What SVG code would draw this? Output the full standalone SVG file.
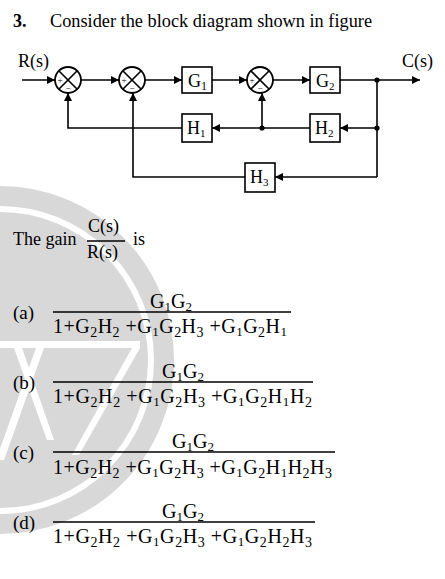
<svg xmlns="http://www.w3.org/2000/svg" width="445" height="579" viewBox="0 0 445 579">
<style>
  .t { font-family: "Liberation Serif", "Times New Roman", serif; fill: #000; }
  .ln { stroke: #000; stroke-width: 1.6; fill: none; }
  .box { stroke: #000; stroke-width: 1.6; fill: #fff; }
  .sum { stroke: #000; stroke-width: 1.8; fill: #fff; }
  .fr { stroke: #000; stroke-width: 1.3; }
  .wm { fill: #d8d8d8; }
  .wmw { fill: #fff; }
</style>
<defs>
  <marker id="ah" viewBox="0 0 10 10" refX="10" refY="5" markerWidth="9" markerHeight="8" markerUnits="userSpaceOnUse" orient="auto">
    <path d="M0,0 L10,5 L0,10 z" fill="#000"/>
  </marker>
  <clipPath id="disc"><circle cx="0" cy="360" r="148"/></clipPath>
</defs>
<rect width="445" height="579" fill="#fff"/>

<g id="watermark">
  <circle cx="0" cy="360" r="164" fill="none" stroke="#d8d8d8" stroke-width="20"/>
  <circle class="wm" cx="0" cy="360" r="148"/>
  <g clip-path="url(#disc)">
    <rect class="wmw" x="0" y="341" width="140" height="7"/>
    <polygon class="wmw" points="132,348 140,348 79,455 72,455"/>
    <polygon class="wmw" points="36,348 44,348 4,460 -4,460"/>
    <polygon class="wmw" points="14,348 22,348 54,440 47,440"/>
  </g>
</g>

<g id="title">
  <text class="t" x="13" y="27" font-size="18" font-weight="bold">3.</text>
  <text class="t" x="50" y="27" font-size="18" textLength="322" lengthAdjust="spacingAndGlyphs">Consider the block diagram shown in figure</text>
</g>

<g id="connectors">
  <path class="ln" d="M22,80 H55" marker-end="url(#ah)"/>
  <path class="ln" d="M81,80 H119" marker-end="url(#ah)"/>
  <path class="ln" d="M145,80 H182" marker-end="url(#ah)"/>
  <path class="ln" d="M212,80 H247" marker-end="url(#ah)"/>
  <path class="ln" d="M273,80 H310" marker-end="url(#ah)"/>
  <path class="ln" d="M340,80 H420" marker-end="url(#ah)"/>
  <path class="ln" d="M377,80 V177"/>
  <path class="ln" d="M377,128 H340" marker-end="url(#ah)"/>
  <path class="ln" d="M310,128 H212" marker-end="url(#ah)"/>
  <path class="ln" d="M262,128 V93" marker-end="url(#ah)"/>
  <path class="ln" d="M182,128 H68 V93" marker-end="url(#ah)"/>
  <path class="ln" d="M377,177 H275" marker-end="url(#ah)"/>
  <path class="ln" d="M245,177 H133 V93" marker-end="url(#ah)"/>
  <circle cx="377" cy="80" r="2.6" fill="#000"/>
  <circle cx="377" cy="128" r="2.6" fill="#000"/>
  <circle cx="262" cy="128" r="2.6" fill="#000"/>
</g>

<g id="R">
  <text class="t" x="18" y="67" font-size="18">R(s)</text>
</g>
<g id="C">
  <text class="t" x="402" y="67" font-size="18">C(s)</text>
</g>

<g id="S1">
  <circle class="sum" cx="68" cy="80" r="13"/>
  <path class="ln" d="M58.8,70.8 L77.2,89.2 M77.2,70.8 L58.8,89.2"/>
  <text class="t" x="57.5" y="83" font-size="9">+</text>
  <text class="t" x="65.5" y="91" font-size="9">−</text>
</g>
<g id="S2">
  <circle class="sum" cx="132" cy="80" r="13"/>
  <path class="ln" d="M122.8,70.8 L141.2,89.2 M141.2,70.8 L122.8,89.2"/>
  <text class="t" x="121.5" y="83" font-size="9">+</text>
  <text class="t" x="129.5" y="91" font-size="9">−</text>
</g>
<g id="S3">
  <circle class="sum" cx="260" cy="80" r="13"/>
  <path class="ln" d="M250.8,70.8 L269.2,89.2 M269.2,70.8 L250.8,89.2"/>
  <text class="t" x="249.5" y="83" font-size="9">+</text>
  <text class="t" x="257.5" y="91" font-size="9">−</text>
</g>

<g id="G1">
  <rect class="box" x="182" y="67" width="30" height="26"/>
  <text class="t" x="188" y="87" font-size="18">G<tspan font-size="12" dy="3">1</tspan></text>
</g>
<g id="G2">
  <rect class="box" x="310" y="67" width="30" height="26"/>
  <text class="t" x="316" y="87" font-size="18">G<tspan font-size="11" dy="3">2</tspan></text>
</g>
<g id="H1">
  <rect class="box" x="182" y="114" width="30" height="28"/>
  <text class="t" x="187" y="134" font-size="18">H<tspan font-size="11" dy="3">1</tspan></text>
</g>
<g id="H2">
  <rect class="box" x="310" y="114" width="30" height="28"/>
  <text class="t" x="315" y="134" font-size="18">H<tspan font-size="11" dy="3">2</tspan></text>
</g>
<g id="H3">
  <rect class="box" x="245" y="163" width="30" height="29"/>
  <text class="t" x="250" y="183" font-size="18">H<tspan font-size="11" dy="3">3</tspan></text>
</g>

<g id="question">
  <text class="t" x="13" y="245" font-size="18">The gain</text>
  <text class="t" x="88" y="232" font-size="18">C(s)</text>
  <line class="fr" x1="87" y1="241" x2="125" y2="241"/>
  <text class="t" x="87" y="258" font-size="18">R(s)</text>
  <text class="t" x="133" y="245" font-size="18">is</text>
</g>

<g id="optA">
  <text class="t" x="13" y="319" font-size="19">(a)</text>
  <text class="t" x="150" y="308" font-size="20">G<tspan font-size="13" dy="3">1</tspan><tspan dy="-3">G</tspan><tspan font-size="13" dy="3">2</tspan></text>
  <line class="fr" x1="53" y1="312" x2="291" y2="312"/>
  <text class="t" x="53" y="333" font-size="20" textLength="234" lengthAdjust="spacing">1+G<tspan font-size="14" dy="4">2</tspan><tspan dy="-4">H</tspan><tspan font-size="14" dy="4">2</tspan><tspan dy="-4"> +G</tspan><tspan font-size="13" dy="3">1</tspan><tspan dy="-3">G</tspan><tspan font-size="14" dy="4">2</tspan><tspan dy="-4">H</tspan><tspan font-size="14" dy="4">3</tspan><tspan dy="-4"> +G</tspan><tspan font-size="13" dy="3">1</tspan><tspan dy="-3">G</tspan><tspan font-size="14" dy="4">2</tspan><tspan dy="-4">H</tspan><tspan font-size="13" dy="3">1</tspan></text>
</g>

<g id="optB">
  <text class="t" x="13" y="389" font-size="19">(b)</text>
  <text class="t" x="162" y="378" font-size="20">G<tspan font-size="13" dy="3">1</tspan><tspan dy="-3">G</tspan><tspan font-size="13" dy="3">2</tspan></text>
  <line class="fr" x1="53" y1="382" x2="313" y2="382"/>
  <text class="t" x="53" y="403" font-size="20" textLength="259" lengthAdjust="spacing">1+G<tspan font-size="14" dy="4">2</tspan><tspan dy="-4">H</tspan><tspan font-size="14" dy="4">2</tspan><tspan dy="-4"> +G</tspan><tspan font-size="13" dy="3">1</tspan><tspan dy="-3">G</tspan><tspan font-size="14" dy="4">2</tspan><tspan dy="-4">H</tspan><tspan font-size="14" dy="4">3</tspan><tspan dy="-4"> +G</tspan><tspan font-size="13" dy="3">1</tspan><tspan dy="-3">G</tspan><tspan font-size="14" dy="4">2</tspan><tspan dy="-4">H</tspan><tspan font-size="13" dy="3">1</tspan><tspan dy="-3">H</tspan><tspan font-size="14" dy="4">2</tspan></text>
</g>

<g id="optC">
  <text class="t" x="13" y="459" font-size="19">(c)</text>
  <text class="t" x="172" y="448" font-size="20">G<tspan font-size="13" dy="3">1</tspan><tspan dy="-3">G</tspan><tspan font-size="13" dy="3">2</tspan></text>
  <line class="fr" x1="53" y1="452" x2="335" y2="452"/>
  <text class="t" x="53" y="474" font-size="20" textLength="279" lengthAdjust="spacing">1+G<tspan font-size="14" dy="4">2</tspan><tspan dy="-4">H</tspan><tspan font-size="14" dy="4">2</tspan><tspan dy="-4"> +G</tspan><tspan font-size="13" dy="3">1</tspan><tspan dy="-3">G</tspan><tspan font-size="14" dy="4">2</tspan><tspan dy="-4">H</tspan><tspan font-size="14" dy="4">3</tspan><tspan dy="-4"> +G</tspan><tspan font-size="13" dy="3">1</tspan><tspan dy="-3">G</tspan><tspan font-size="14" dy="4">2</tspan><tspan dy="-4">H</tspan><tspan font-size="13" dy="3">1</tspan><tspan dy="-3">H</tspan><tspan font-size="14" dy="4">2</tspan><tspan dy="-4">H</tspan><tspan font-size="14" dy="4">3</tspan></text>
</g>

<g id="optD">
  <text class="t" x="13" y="529" font-size="19">(d)</text>
  <text class="t" x="162" y="518" font-size="20">G<tspan font-size="13" dy="3">1</tspan><tspan dy="-3">G</tspan><tspan font-size="13" dy="3">2</tspan></text>
  <line class="fr" x1="53" y1="522" x2="315" y2="522"/>
  <text class="t" x="53" y="543" font-size="20" textLength="259" lengthAdjust="spacing">1+G<tspan font-size="14" dy="4">2</tspan><tspan dy="-4">H</tspan><tspan font-size="14" dy="4">2</tspan><tspan dy="-4"> +G</tspan><tspan font-size="13" dy="3">1</tspan><tspan dy="-3">G</tspan><tspan font-size="14" dy="4">2</tspan><tspan dy="-4">H</tspan><tspan font-size="14" dy="4">3</tspan><tspan dy="-4"> +G</tspan><tspan font-size="13" dy="3">1</tspan><tspan dy="-3">G</tspan><tspan font-size="14" dy="4">2</tspan><tspan dy="-4">H</tspan><tspan font-size="14" dy="4">2</tspan><tspan dy="-4">H</tspan><tspan font-size="14" dy="4">3</tspan></text>
</g>
</svg>
